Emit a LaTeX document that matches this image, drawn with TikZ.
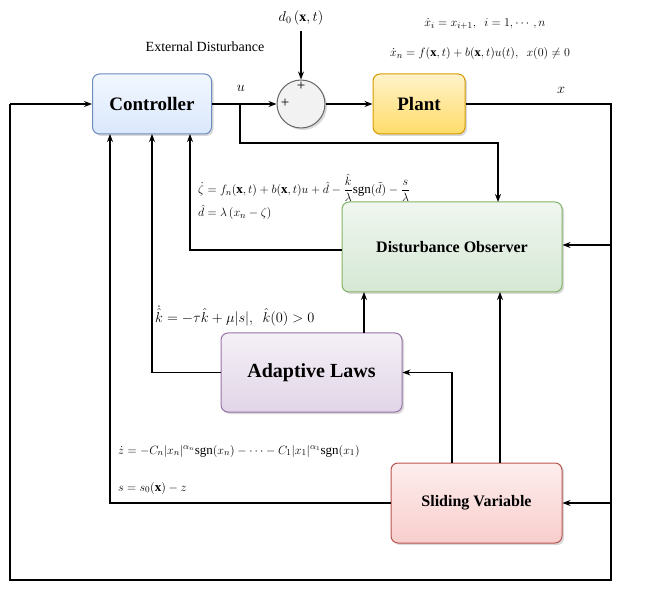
\documentclass[tikz,border=0pt]{standalone}
\usepackage{amsmath,amssymb}
\usepackage{fontspec}
\setmainfont{Liberation Serif}
\usetikzlibrary{arrows.meta,shadows,calc}
\definecolor{bluS}{HTML}{6C8EBF}\definecolor{bluF}{HTML}{DAE8FC}
\definecolor{orS}{HTML}{D79B00}\definecolor{orF}{HTML}{FFCD28}
\definecolor{grS}{HTML}{82B366}\definecolor{grF}{HTML}{D5E8D4}
\definecolor{puS}{HTML}{9673A6}\definecolor{puF}{HTML}{E1D5E7}
\definecolor{reS}{HTML}{B85450}\definecolor{reF}{HTML}{F8CECC}
\begin{document}
\begin{tikzpicture}[x=1pt,y=-1pt,
  blk/.style={draw=#1S, line width=1pt, rounded corners=7pt, top color=#1F!35!white, bottom color=#1F, drop shadow={shadow xshift=2pt,shadow yshift=-2pt,opacity=0.3}, font=\bfseries},
  ar/.style={-{Stealth[length=8pt,width=6pt]}, line width=1.2pt},
  ln/.style={line width=1.2pt},
  eq/.style={font=\fontsize{14}{17}\selectfont, inner sep=0pt}]
\useasboundingbox (0,0) rectangle (645,601);
% blocks
\node[blk=blu, minimum width=119pt, minimum height=60pt, font=\fontsize{19}{22}\selectfont\bfseries] (ctrl) at (152,104) {Controller};
\node[draw=black!60, line width=1pt, circle, minimum size=48pt, inner sep=0pt, fill=black!5, drop shadow={shadow xshift=2pt,shadow yshift=-2pt,opacity=0.3}] (sum) at (301,104) {};
\node[blk=or, minimum width=92pt, minimum height=60pt, top color=orF!25!white, bottom color=orF!70!white, font=\fontsize{19}{22}\selectfont\bfseries] (plant) at (419,104) {Plant};
\node[blk=gr, minimum width=220pt, minimum height=90pt, font=\fontsize{16}{19}\selectfont\bfseries] (do) at (452,247) {Disturbance Observer};
\node[blk=pu, minimum width=181pt, minimum height=79pt, font=\fontsize{20}{23}\selectfont\bfseries] (al) at (311.5,372.5) {Adaptive Laws};
\node[blk=re, minimum width=171pt, minimum height=80pt, font=\fontsize{16}{19}\selectfont\bfseries] (sv) at (476.5,503) {Sliding Variable};
% texts
\node[font=\fontsize{15}{16}\selectfont, inner sep=0pt] (plus1) at (301,86) {+};
\node[font=\fontsize{15}{16}\selectfont, inner sep=0pt] (plus2) at (285,103) {+};
\node[font=\fontsize{14}{16}\selectfont] (ext) at (205,47) {External Disturbance};
\node[eq] (d0) at (301,18) {$d_0\left(\mathbf{x},t\right)$};
\node[eq, font=\fontsize{12.5}{15}\selectfont] (e1) at (485,24) {$\dot{x}_i = x_{i+1},\ \ i=1,\cdots,n$};
\node[eq, font=\fontsize{12.5}{15}\selectfont] (e2) at (480,54) {$\dot{x}_n = f(\mathbf{x},t)+b(\mathbf{x},t)u(t),\ \ x(0)\neq 0$};
\node[eq,font=\fontsize{15}{17}\selectfont] (ul) at (241,88) {$u$};
\node[eq,font=\fontsize{15}{17}\selectfont] (xl) at (561,90) {$x$};
\node[eq, anchor=west, font=\fontsize{13}{15}\selectfont] (zeta) at (198,188) {$\dot{\zeta} = f_n(\mathbf{x},t)+b(\mathbf{x},t)u+\hat{d}-\dfrac{\hat{k}}{\lambda}\mathrm{sgn}(\tilde{d})-\dfrac{s}{\lambda}$};
\node[eq, anchor=west, font=\fontsize{13}{15}\selectfont] (dh) at (198,212) {$\hat{d}=\lambda\left(x_n-\zeta\right)$};
\node[eq, anchor=west] (kk) at (155,316) {$\dot{\hat{k}}=-\tau\hat{k}+\mu|s|,\ \ \hat{k}(0)>0$};
\node[eq, anchor=west, font=\fontsize{13}{15}\selectfont] (zz) at (118,451) {$\dot{z}=-C_n|x_n|^{\alpha_n}\mathrm{sgn}(x_n)-\cdots-C_1|x_1|^{\alpha_1}\mathrm{sgn}(x_1)$};
\node[eq, anchor=west, font=\fontsize{13}{15}\selectfont] (ss) at (118,488) {$s=s_0(\mathbf{x})-z$};
% coordinates
\coordinate (br) at (611,580);
\coordinate (bl) at (10,580);
% connectors
\draw[ar] (d0.south) ++(0,6) -- (sum.north);
\draw[ar] (ctrl.east) -- (sum.west);
\draw[ar] (sum.east) -- (plant.west);
\draw[ln] (plant.east) -- (611,104) -- (br) -- (bl) -- (10,104);
\draw[ar] (10,104) -- (ctrl.west);
\draw[ar] (611,245) -- (do.east |- 0,245);
\draw[ar] (611,503) -- (sv.east);
\draw[ar] (240,104) -- (240,143) -- (498,143) -- (498,202);
\draw[ar] (do.west |- 0,250) -- (190,250) -- (190,134);
\draw[ar] (al.west) -- (152,372.5) -- (152,134);
\draw[ar] (sv.west) -- (110,503) -- (110,134);
\draw[ar] (364,333) -- (364,292);
\draw[ar] (500,463) -- (500,292);
\draw[ar] (452,463) -- (452,372.5) -- (al.east);
\end{tikzpicture}
\end{document}
